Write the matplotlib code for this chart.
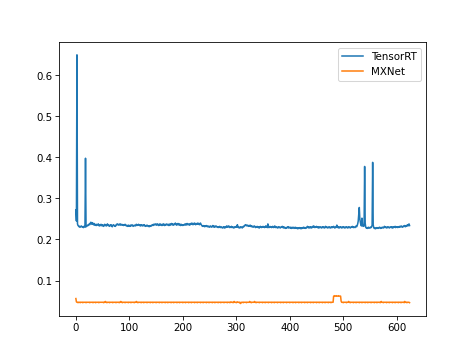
import numpy as np
import matplotlib
matplotlib.use("Agg")
import matplotlib.pyplot as plt

SERIES_NAMES = ["TensorRT", "MXNet"]

TENSORRT = [
    0.272, 0.245, 0.650, 0.238, 0.234, 0.233, 0.231, 0.232, 0.230, 0.231, 0.233, 0.232, 0.230, 0.231, 0.229, 0.232, 0.231, 0.230, 0.398, 0.231, 0.232, 0.233, 0.235, 0.234, 0.236,
    0.238, 0.236, 0.240, 0.242, 0.239, 0.237, 0.241, 0.238, 0.236, 0.239, 0.235, 0.237, 0.236, 0.234, 0.237, 0.235, 0.236, 0.238, 0.234, 0.233, 0.236, 0.234, 0.237, 0.235, 0.233,
    0.236, 0.234, 0.232, 0.235, 0.237, 0.234, 0.236, 0.233, 0.235, 0.238, 0.234, 0.236, 0.233, 0.232, 0.235, 0.234, 0.236, 0.233, 0.231, 0.234, 0.236, 0.235, 0.233, 0.234, 0.232,
    0.235, 0.237, 0.236, 0.238, 0.236, 0.235, 0.237, 0.236, 0.238, 0.235, 0.236, 0.237, 0.235, 0.236, 0.234, 0.236, 0.235, 0.237, 0.234, 0.235, 0.233, 0.234, 0.232, 0.235, 0.233,
    0.234, 0.232, 0.235, 0.233, 0.234, 0.236, 0.234, 0.232, 0.233, 0.235, 0.234, 0.233, 0.235, 0.237, 0.234, 0.236, 0.235, 0.237, 0.236, 0.234, 0.235, 0.233, 0.236, 0.234, 0.235,
    0.233, 0.235, 0.234, 0.236, 0.233, 0.232, 0.234, 0.233, 0.235, 0.234, 0.232, 0.233, 0.231, 0.233, 0.234, 0.232, 0.233, 0.235, 0.236, 0.234, 0.237, 0.235, 0.236, 0.238, 0.236,
    0.237, 0.235, 0.238, 0.236, 0.237, 0.234, 0.236, 0.238, 0.235, 0.237, 0.236, 0.234, 0.237, 0.235, 0.238, 0.236, 0.234, 0.237, 0.235, 0.236, 0.238, 0.236, 0.235, 0.237, 0.234,
    0.236, 0.238, 0.235, 0.237, 0.239, 0.236, 0.238, 0.235, 0.237, 0.236, 0.238, 0.240, 0.237, 0.235, 0.238, 0.236, 0.239, 0.237, 0.235, 0.238, 0.236, 0.234, 0.237, 0.235, 0.236,
    0.234, 0.236, 0.235, 0.237, 0.236, 0.238, 0.235, 0.237, 0.239, 0.236, 0.238, 0.237, 0.235, 0.238, 0.236, 0.239, 0.237, 0.240, 0.238, 0.236, 0.239, 0.237, 0.240, 0.238, 0.236,
    0.239, 0.237, 0.238, 0.240, 0.237, 0.239, 0.236, 0.238, 0.240, 0.237, 0.235, 0.233, 0.232, 0.234, 0.232, 0.233, 0.231, 0.233, 0.232, 0.234, 0.232, 0.231, 0.233, 0.232, 0.230,
    0.232, 0.231, 0.233, 0.231, 0.230, 0.232, 0.234, 0.231, 0.233, 0.230, 0.232, 0.231, 0.233, 0.232, 0.230, 0.231, 0.229, 0.231, 0.230, 0.232, 0.229, 0.230, 0.231, 0.229, 0.228,
    0.230, 0.229, 0.231, 0.228, 0.230, 0.229, 0.231, 0.233, 0.230, 0.232, 0.231, 0.233, 0.230, 0.229, 0.231, 0.230, 0.232, 0.229, 0.231, 0.230, 0.228, 0.230, 0.229, 0.231, 0.230,
    0.232, 0.230, 0.236, 0.231, 0.229, 0.230, 0.228, 0.230, 0.229, 0.231, 0.230, 0.228, 0.230, 0.232, 0.231, 0.233, 0.235, 0.234, 0.236, 0.234, 0.233, 0.235, 0.234, 0.232, 0.234,
    0.233, 0.235, 0.233, 0.231, 0.233, 0.232, 0.230, 0.232, 0.231, 0.233, 0.231, 0.229, 0.231, 0.230, 0.232, 0.230, 0.229, 0.231, 0.228, 0.230, 0.232, 0.231, 0.229, 0.231, 0.230,
    0.232, 0.230, 0.231, 0.229, 0.231, 0.233, 0.230, 0.232, 0.229, 0.238, 0.231, 0.229, 0.230, 0.232, 0.230, 0.231, 0.229, 0.230, 0.232, 0.231, 0.229, 0.231, 0.233, 0.230, 0.229,
    0.231, 0.230, 0.228, 0.230, 0.229, 0.231, 0.230, 0.228, 0.229, 0.231, 0.230, 0.232, 0.229, 0.231, 0.228, 0.230, 0.229, 0.227, 0.229, 0.228, 0.230, 0.229, 0.231, 0.228, 0.230,
    0.229, 0.228, 0.230, 0.227, 0.229, 0.228, 0.230, 0.229, 0.227, 0.228, 0.230, 0.228, 0.227, 0.229, 0.228, 0.226, 0.228, 0.227, 0.229, 0.227, 0.228, 0.226, 0.228, 0.227, 0.229,
    0.228, 0.230, 0.228, 0.229, 0.227, 0.229, 0.228, 0.230, 0.232, 0.229, 0.231, 0.228, 0.230, 0.229, 0.231, 0.228, 0.230, 0.229, 0.231, 0.233, 0.230, 0.232, 0.229, 0.231, 0.230,
    0.232, 0.230, 0.229, 0.231, 0.228, 0.230, 0.229, 0.231, 0.230, 0.228, 0.230, 0.229, 0.231, 0.229, 0.230, 0.228, 0.230, 0.232, 0.229, 0.231, 0.230, 0.228, 0.229, 0.231, 0.229,
    0.230, 0.228, 0.230, 0.229, 0.231, 0.229, 0.230, 0.232, 0.230, 0.228, 0.230, 0.229, 0.231, 0.235, 0.230, 0.229, 0.231, 0.228, 0.230, 0.229, 0.231, 0.230, 0.228, 0.230, 0.229,
    0.231, 0.229, 0.230, 0.228, 0.230, 0.229, 0.231, 0.230, 0.228, 0.230, 0.229, 0.231, 0.230, 0.228, 0.229, 0.231, 0.230, 0.232, 0.230, 0.229, 0.231, 0.230, 0.229, 0.231, 0.233,
    0.231, 0.234, 0.238, 0.245, 0.262, 0.278, 0.250, 0.242, 0.236, 0.233, 0.252, 0.236, 0.232, 0.234, 0.233, 0.378, 0.240, 0.230, 0.228, 0.229, 0.227, 0.228, 0.230, 0.228, 0.229,
    0.228, 0.230, 0.229, 0.231, 0.235, 0.388, 0.236, 0.229, 0.227, 0.228, 0.226, 0.228, 0.227, 0.229, 0.228, 0.227, 0.229, 0.228, 0.230, 0.229, 0.227, 0.229, 0.228, 0.230, 0.229,
    0.228, 0.230, 0.232, 0.229, 0.231, 0.230, 0.228, 0.230, 0.229, 0.231, 0.230, 0.228, 0.229, 0.231, 0.230, 0.229, 0.231, 0.228, 0.230, 0.229, 0.231, 0.230, 0.232, 0.229, 0.231,
    0.230, 0.231, 0.229, 0.231, 0.230, 0.232, 0.230, 0.231, 0.233, 0.231, 0.232, 0.230, 0.231, 0.233, 0.232, 0.234, 0.231, 0.233, 0.232, 0.234, 0.236, 0.233, 0.235, 0.238, 0.234,
]

MXNET = [
    0.056, 0.048, 0.047, 0.047, 0.046, 0.047, 0.047, 0.047, 0.046, 0.047, 0.047, 0.047, 0.047, 0.046, 0.047, 0.047, 0.047, 0.047, 0.047, 0.046, 0.047, 0.047, 0.047, 0.047, 0.047,
    0.047, 0.046, 0.047, 0.047, 0.047, 0.047, 0.047, 0.046, 0.047, 0.047, 0.047, 0.047, 0.046, 0.047, 0.047, 0.047, 0.047, 0.047, 0.046, 0.047, 0.047, 0.047, 0.047, 0.047, 0.047,
    0.047, 0.047, 0.046, 0.047, 0.047, 0.049, 0.047, 0.047, 0.046, 0.047, 0.047, 0.047, 0.047, 0.046, 0.047, 0.047, 0.047, 0.047, 0.047, 0.046, 0.047, 0.047, 0.047, 0.047, 0.047,
    0.046, 0.047, 0.047, 0.047, 0.047, 0.047, 0.046, 0.047, 0.047, 0.049, 0.047, 0.047, 0.046, 0.047, 0.047, 0.047, 0.047, 0.046, 0.047, 0.047, 0.047, 0.047, 0.047, 0.046, 0.047,
    0.047, 0.047, 0.047, 0.046, 0.047, 0.047, 0.047, 0.047, 0.047, 0.046, 0.047, 0.047, 0.047, 0.049, 0.047, 0.047, 0.046, 0.047, 0.047, 0.047, 0.047, 0.047, 0.046, 0.047, 0.047,
    0.047, 0.047, 0.046, 0.047, 0.047, 0.047, 0.047, 0.047, 0.046, 0.047, 0.047, 0.047, 0.047, 0.047, 0.046, 0.047, 0.047, 0.047, 0.047, 0.046, 0.047, 0.047, 0.047, 0.047, 0.047,
    0.046, 0.047, 0.047, 0.047, 0.047, 0.047, 0.046, 0.047, 0.047, 0.047, 0.047, 0.046, 0.047, 0.047, 0.047, 0.047, 0.047, 0.046, 0.047, 0.047, 0.047, 0.047, 0.046, 0.047, 0.047,
    0.047, 0.047, 0.047, 0.046, 0.047, 0.047, 0.047, 0.047, 0.046, 0.047, 0.047, 0.047, 0.047, 0.047, 0.046, 0.047, 0.047, 0.047, 0.047, 0.046, 0.047, 0.047, 0.047, 0.047, 0.047,
    0.046, 0.047, 0.047, 0.047, 0.047, 0.046, 0.047, 0.047, 0.047, 0.047, 0.047, 0.046, 0.047, 0.047, 0.047, 0.047, 0.046, 0.047, 0.047, 0.047, 0.047, 0.047, 0.046, 0.047, 0.047,
    0.047, 0.047, 0.046, 0.047, 0.047, 0.047, 0.047, 0.047, 0.046, 0.047, 0.047, 0.047, 0.047, 0.046, 0.047, 0.047, 0.047, 0.047, 0.047, 0.046, 0.047, 0.047, 0.047, 0.047, 0.046,
    0.047, 0.047, 0.047, 0.047, 0.047, 0.046, 0.047, 0.047, 0.047, 0.047, 0.046, 0.047, 0.047, 0.047, 0.047, 0.047, 0.046, 0.047, 0.047, 0.047, 0.047, 0.046, 0.047, 0.047, 0.047,
    0.047, 0.047, 0.046, 0.047, 0.047, 0.047, 0.047, 0.047, 0.046, 0.047, 0.047, 0.047, 0.047, 0.046, 0.047, 0.048, 0.047, 0.047, 0.047, 0.046, 0.047, 0.049, 0.047, 0.047, 0.047,
    0.046, 0.047, 0.048, 0.047, 0.047, 0.047, 0.046, 0.047, 0.044, 0.046, 0.047, 0.047, 0.047, 0.046, 0.047, 0.047, 0.047, 0.047, 0.047, 0.046, 0.047, 0.047, 0.047, 0.047, 0.047,
    0.049, 0.047, 0.047, 0.046, 0.047, 0.047, 0.047, 0.047, 0.047, 0.049, 0.047, 0.047, 0.046, 0.047, 0.047, 0.047, 0.047, 0.047, 0.046, 0.047, 0.047, 0.047, 0.047, 0.047, 0.046,
    0.047, 0.047, 0.047, 0.047, 0.046, 0.047, 0.047, 0.047, 0.047, 0.047, 0.046, 0.047, 0.047, 0.047, 0.047, 0.047, 0.046, 0.047, 0.047, 0.047, 0.047, 0.046, 0.047, 0.047, 0.047,
    0.047, 0.047, 0.046, 0.047, 0.047, 0.047, 0.047, 0.047, 0.046, 0.047, 0.047, 0.047, 0.047, 0.046, 0.047, 0.047, 0.047, 0.047, 0.047, 0.046, 0.047, 0.047, 0.047, 0.047, 0.047,
    0.046, 0.047, 0.047, 0.047, 0.047, 0.047, 0.046, 0.047, 0.047, 0.047, 0.047, 0.046, 0.047, 0.047, 0.047, 0.047, 0.047, 0.046, 0.047, 0.047, 0.047, 0.047, 0.046, 0.047, 0.047,
    0.047, 0.047, 0.047, 0.046, 0.047, 0.047, 0.047, 0.047, 0.046, 0.047, 0.047, 0.047, 0.047, 0.047, 0.046, 0.047, 0.047, 0.047, 0.047, 0.046, 0.047, 0.047, 0.047, 0.047, 0.047,
    0.046, 0.047, 0.047, 0.047, 0.047, 0.046, 0.047, 0.047, 0.047, 0.047, 0.047, 0.046, 0.047, 0.047, 0.047, 0.047, 0.046, 0.047, 0.047, 0.047, 0.047, 0.047, 0.046, 0.047, 0.047,
    0.047, 0.047, 0.046, 0.047, 0.047, 0.047, 0.047, 0.062, 0.062, 0.063, 0.062, 0.062, 0.063, 0.062, 0.062, 0.062, 0.063, 0.062, 0.062, 0.062, 0.062, 0.050, 0.047, 0.047, 0.047,
    0.046, 0.047, 0.047, 0.047, 0.047, 0.047, 0.046, 0.047, 0.047, 0.047, 0.049, 0.047, 0.047, 0.046, 0.047, 0.047, 0.047, 0.047, 0.047, 0.046, 0.047, 0.047, 0.047, 0.047, 0.046,
    0.047, 0.047, 0.047, 0.047, 0.047, 0.046, 0.047, 0.047, 0.047, 0.047, 0.046, 0.047, 0.047, 0.047, 0.047, 0.047, 0.046, 0.047, 0.047, 0.047, 0.047, 0.046, 0.047, 0.047, 0.047,
    0.047, 0.047, 0.046, 0.047, 0.047, 0.047, 0.047, 0.047, 0.046, 0.047, 0.047, 0.047, 0.047, 0.046, 0.047, 0.047, 0.047, 0.047, 0.047, 0.046, 0.047, 0.049, 0.047, 0.047, 0.047,
    0.046, 0.047, 0.047, 0.047, 0.047, 0.047, 0.046, 0.047, 0.047, 0.047, 0.047, 0.046, 0.047, 0.047, 0.047, 0.047, 0.047, 0.046, 0.047, 0.047, 0.047, 0.047, 0.046, 0.047, 0.047,
    0.047, 0.047, 0.047, 0.046, 0.047, 0.047, 0.047, 0.047, 0.046, 0.047, 0.047, 0.047, 0.047, 0.047, 0.046, 0.049, 0.047, 0.047, 0.047, 0.046, 0.047, 0.047, 0.047, 0.047, 0.046,
]

fig, ax = plt.subplots(figsize=(6.4, 4.8), dpi=74)
ax.plot(np.arange(len(TENSORRT)), TENSORRT, label=SERIES_NAMES[0])
ax.plot(np.arange(len(MXNET)), MXNET, label=SERIES_NAMES[1])
ax.legend(loc="upper right")
fig.savefig("out.png", dpi=74)
